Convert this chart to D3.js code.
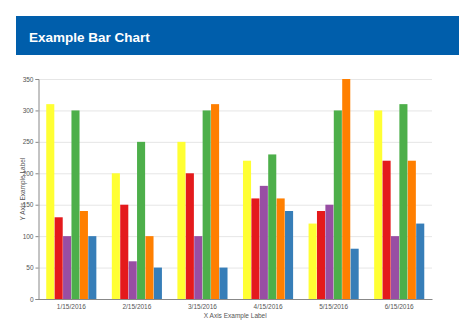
<!DOCTYPE html>
<html>
<head>
<meta charset="utf-8">
<script src="https://cdn.jsdelivr.net/npm/d3@7"></script>
<style>
  body { margin: 0; background: #fff; font-family: "Liberation Sans", Arial, sans-serif; }
  .axis text { fill: #555; font-size: 6.5px; font-family: "Liberation Sans", Arial, sans-serif; }
  .axis path, .axis line { stroke: #888; }
  .grid line { stroke: #e6e6e6; }
  .grid path { display: none; }
</style>
</head>
<body>
<div id="chart"></div>
<script>
// categories and series
var dates = ["1/15/2016", "2/15/2016", "3/15/2016", "4/15/2016", "5/15/2016", "6/15/2016"];
var seriesNames = ["A", "B", "C", "D", "E", "F"];
var seriesA = [310, 200, 250, 220, 120, 300];
var seriesB = [130, 150, 200, 160, 140, 220];
var seriesC = [100, 60, 100, 180, 150, 100];
var seriesD = [300, 250, 300, 230, 300, 310];
var seriesE = [140, 100, 310, 160, 350, 220];
var seriesF = [100, 50, 50, 140, 80, 120];
var yTicks = [0, 50, 100, 150, 200, 250, 300, 350];

const colors = ["#ffff33", "#e41a1c", "#984ea3", "#4daf4a", "#ff7f00", "#377eb8"];
var allSeries = [seriesA, seriesB, seriesC, seriesD, seriesE, seriesF];

var data = dates.map(function(d, i) {
  var row = {date: d};
  seriesNames.forEach(function(k, j) { row[k] = allSeries[j][i]; });
  return row;
});

var svg = d3.select("#chart").append("svg")
    .attr("width", 474).attr("height", 335);

// header bar
svg.append("rect")
    .attr("x", 16).attr("y", 16)
    .attr("width", 443).attr("height", 39)
    .attr("fill", "#005eab");
svg.append("text")
    .attr("x", 29).attr("y", 41.5)
    .attr("fill", "#fff")
    .attr("font-size", 13.5)
    .attr("font-weight", "bold")
    .attr("font-family", "'Liberation Sans', Arial, sans-serif")
    .text("Example Bar Chart");

var margin = {top: 79, left: 38.5},
    width = 393.5,
    height = 220,
    g = svg.append("g").attr("transform", "translate(" + margin.left + "," + margin.top + ")");

var x0 = d3.scaleBand()
    .domain(dates)
    .range([0, width])
    .padding(0);

var x1 = d3.scaleBand()
    .domain(seriesNames)
    .range([0, x0.bandwidth()])
    .paddingInner(0.04)
    .paddingOuter(0.92);

var y = d3.scaleLinear()
    .domain([0, 350])
    .range([height, 0]);

var z = d3.scaleOrdinal().domain(seriesNames).range(colors);

// gridlines
g.append("g")
    .attr("class", "grid")
    .call(d3.axisLeft(y).tickValues(yTicks).tickSize(-width).tickFormat(""));

// bars
g.append("g")
  .selectAll("g")
  .data(data)
  .enter().append("g")
    .attr("transform", function(d) { return "translate(" + x0(d.date) + ",0)"; })
  .selectAll("rect")
  .data(function(d) { return seriesNames.map(function(k) { return {key: k, value: d[k]}; }); })
  .enter().append("rect")
    .attr("x", function(d) { return x1(d.key); })
    .attr("y", function(d) { return y(d.value); })
    .attr("width", x1.bandwidth())
    .attr("height", function(d) { return height - y(d.value); })
    .attr("fill", function(d) { return z(d.key); });

// axes
g.append("g")
    .attr("class", "axis")
    .call(d3.axisLeft(y).tickValues(yTicks).tickSize(3).tickSizeOuter(3).tickPadding(2));

g.append("g")
    .attr("class", "axis")
    .attr("transform", "translate(0," + height + ")")
    .call(d3.axisBottom(x0).tickSize(0).tickPadding(5));

// axis labels
svg.append("text")
    .attr("x", margin.left + width / 2)
    .attr("y", 318)
    .attr("text-anchor", "middle")
    .attr("fill", "#555")
    .attr("font-size", 6.5)
    .text("X Axis Example Label");

svg.append("text")
    .attr("transform", "translate(25," + (margin.top + height / 2) + ") rotate(-90)")
    .attr("text-anchor", "middle")
    .attr("fill", "#555")
    .attr("font-size", 6.5)
    .text("Y Axis Example Label");
</script>
</body>
</html>
